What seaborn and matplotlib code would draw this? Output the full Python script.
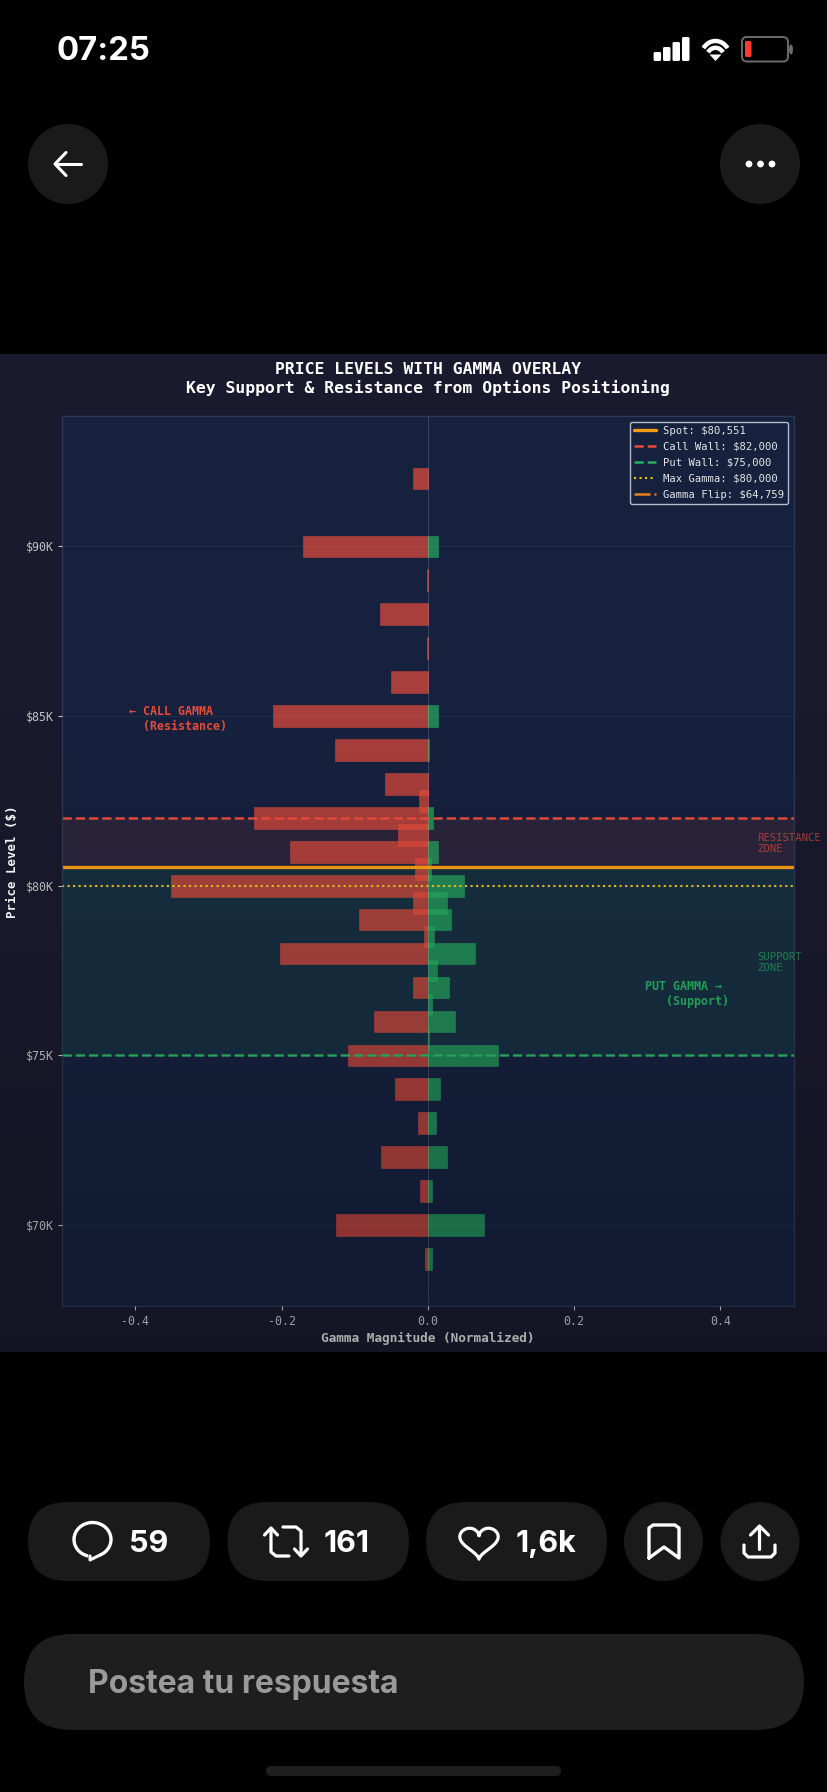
#!/usr/bin/env python3
"""
Price levels with gamma overlay, inside a phone screenshot
"""

import numpy as np
import matplotlib
matplotlib.use("Agg")
import matplotlib.pyplot as plt
from matplotlib.patches import Circle, Ellipse, FancyBboxPatch, Polygon, Arc
import seaborn as sns

# Chart values
price_levels = [92000, 90000, 89000, 88000, 87000, 86000, 85000, 84000, 83000, 82500, 82000,
                81500, 81000, 80500, 80000, 79500, 79000, 78500, 78000, 77500, 77000, 76500,
                76000, 75500, 75000, 74000, 73000, 72000, 71000, 70000, 69000]
call_gamma = [-0.021, -0.171, -0.001, -0.065, -0.001, -0.051, -0.212, -0.127, -0.059, -0.0125, -0.238,
              -0.0405, -0.189, -0.0175, -0.3515, -0.020, -0.094, -0.005, -0.2025, 0, -0.021, 0,
              -0.074, 0, -0.11, -0.045, -0.013, -0.0636, -0.011, -0.126, -0.0036]
put_gamma = [0, 0.014, 0, 0, 0, 0, 0.014, 0.002, 0, 0, 0.007,
             0, 0.014, 0.004, 0.049, 0.026, 0.032, 0.0087, 0.064, 0.013, 0.029, 0.0058,
             0.0376, 0.002, 0.096, 0.0166, 0.0116, 0.026, 0.0058, 0.077, 0.0058]

spot = 80551
call_wall = 82000
put_wall = 75000
max_gamma = 80000
gamma_flip = 64759

y_ticks = [70000, 75000, 80000, 85000, 90000]
y_tick_labels = ["$70K", "$75K", "$80K", "$85K", "$90K"]
x_ticks = [-0.4, -0.2, 0.0, 0.2, 0.4]

RED = "#e74c3c"
GREEN = "#27ae60"
MONO = "DejaVu Sans Mono"
W, H = 828, 1792

sns.set_theme(style="dark")
plt.rcParams["font.family"] = [MONO, "DejaVu Sans"]

fig = plt.figure(figsize=(W / 100, H / 100), dpi=100, facecolor="black")


def px_axes(top, bottom, zorder):
    """Axes covering a horizontal strip of the figure, in pixel coords"""
    a = fig.add_axes([0, 1 - bottom / H, 1, (bottom - top) / H], zorder=zorder)
    a.set_xlim(0, W)
    a.set_ylim(bottom, top)
    a.axis("off")
    return a


# Chart image background
bg = px_axes(354, 1352, 0)
bg.add_patch(FancyBboxPatch((0, 354), W, 998, boxstyle="square,pad=0", fc="#1a1a2e", ec="none"))

# Main chart
ax = fig.add_axes([62.3 / W, 1 - 1306.3 / H, 731.3 / W, 890 / H], zorder=1, facecolor="#16213e")
ax.axhspan(spot, call_wall, color=RED, alpha=0.1, lw=0)
ax.axhspan(put_wall, spot, color=GREEN, alpha=0.1, lw=0)

sns.barplot(x=call_gamma, y=price_levels, orient="y", native_scale=True, color=RED, saturation=1,
            alpha=0.7, width=1.28, errorbar=None, edgecolor=RED, linewidth=0.4, ax=ax)
sns.barplot(x=put_gamma, y=price_levels, orient="y", native_scale=True, color=GREEN, saturation=1,
            alpha=0.7, width=1.28, errorbar=None, edgecolor=GREEN, linewidth=0.4, ax=ax)

# levels with no gamma on one side should leave no outline behind
for bar in list(ax.patches):
    if bar.get_width() == 0:
        bar.remove()

ax.axvline(0, color="white", alpha=0.15, lw=0.8)
ax.axhline(spot, color="#f39c12", lw=2.4, label=f"Spot: ${spot:,}")
ax.axhline(call_wall, color=RED, lw=1.8, ls="--", label=f"Call Wall: ${call_wall:,}")
ax.axhline(put_wall, color=GREEN, lw=1.8, ls="--", label=f"Put Wall: ${put_wall:,}")
ax.axhline(max_gamma, color="#f1c40f", lw=1.5, ls=":", label=f"Max Gamma: ${max_gamma:,}")
ax.axhline(gamma_flip, color="#e67e22", lw=1.8, ls="-.", label=f"Gamma Flip: ${gamma_flip:,}")

ax.set_xlim(-0.5, 0.5)
ax.set_ylim(67604, 93835)
ax.set_xticks(x_ticks)
ax.set_xticklabels([f"{v:.1f}" for v in x_ticks])
ax.set_yticks(y_ticks)
ax.set_yticklabels(y_tick_labels)
ax.tick_params(axis="both", colors="#c4c4c4", labelsize=8.4, length=3, width=0.8,
               left=True, bottom=True, pad=3)
ax.set_axisbelow(False)
ax.grid(axis="y", color="white", alpha=0.05, lw=0.8)
ax.grid(axis="x", visible=False)
for spine in ax.spines.values():
    spine.set_color("#2c3a58")
    spine.set_linewidth(0.9)

ax.set_xlabel("Gamma Magnitude (Normalized)", color="#d8d8d8", fontsize=9.2, fontweight="bold", labelpad=3)
ax.set_ylabel("Price Level ($)", color="white", fontsize=9, fontweight="bold")
ax.yaxis.set_label_coords(-0.059, (1306.3 - 862) / 890)
ax.set_title("PRICE LEVELS WITH GAMMA OVERLAY\nKey Support & Resistance from Options Positioning",
             color="white", fontsize=11.8, fontweight="bold", pad=17, linespacing=1.2)

ax.text(-0.409, 84912, "← CALL GAMMA\n  (Resistance)", color=RED, fontsize=8.4, fontweight="bold",
        va="center", ha="left", linespacing=1.25)
ax.text(0.297, 76814, "PUT GAMMA →\n   (Support)", color=GREEN, fontsize=8.4, fontweight="bold",
        va="center", ha="left", linespacing=1.25)
ax.text(0.45, 81250, "RESISTANCE\nZONE", color=RED, alpha=0.7, fontsize=7.6, va="center", ha="left",
        clip_on=False)
ax.text(0.45, 77735, "SUPPORT\nZONE", color=GREEN, alpha=0.7, fontsize=7.6, va="center", ha="left",
        clip_on=False)

leg = ax.legend(loc="upper right", fontsize=7.6, facecolor="#16213e", edgecolor="#c8ccd4",
                framealpha=0.9, handlelength=2.1, labelspacing=0.57, borderaxespad=0.5,
                borderpad=0.4, handletextpad=0.65)
for text in leg.get_texts():
    text.set_color("#e6e6e6")

# The screenshot darkens towards the bottom of the chart
shade = px_axes(354, 1352, 2)
alpha_ramp = np.clip((np.linspace(354, 1352, 256) - 700) / 652, 0, 1)[:, None] * 0.2
rgba = np.zeros((256, 1, 4))
rgba[..., 3] = alpha_ramp
shade.imshow(rgba, extent=(0, W, 1352, 354), aspect="auto", interpolation="bilinear")
shade.set_xlim(0, W)
shade.set_ylim(1352, 354)
shade.patch.set_alpha(0)

# Phone interface
ui = px_axes(0, H, 3)
ui.patch.set_alpha(0)
PILL = "#1a1a1a"
BOLD = ["Inter", "DejaVu Sans"]


def pill(x0, x1, y0, y1, color=PILL):
    r = (y1 - y0) / 2
    ui.add_patch(FancyBboxPatch((x0 + r, y0 + r), x1 - x0 - 2 * r, 0,
                                boxstyle=f"round,pad={r},rounding_size={r}", fc=color, ec="none"))


ui.text(57, 52, "07:25", color="white", fontsize=23.6, fontweight="bold", family=BOLD, va="center", ha="left")

# signal bars
for bx, top in zip([653.6, 663, 672.5, 682], [52, 47, 42, 37]):
    ui.add_patch(FancyBboxPatch((bx + 1.5, top + 1.5), 4.5, 61 - top - 3,
                                boxstyle="round,pad=1.5,rounding_size=1.5", fc="white", ec="none"))
# wifi
for d, lw in [(42, 3.2), (26, 3.2)]:
    ui.add_patch(Arc((715.5, 59), d * 0.72, d * 0.86, theta1=222, theta2=318, color="white", lw=lw))
ui.add_patch(Polygon([[715.5, 61], [709.5, 54.5], [721.5, 54.5]], fc="white", ec="none"))
# battery
ui.add_patch(FancyBboxPatch((745, 40), 40, 18.5, boxstyle="round,pad=3,rounding_size=5",
                            fc="none", ec="#6b6b6b", lw=1.4))
ui.add_patch(FancyBboxPatch((746.5, 42.5), 3.5, 13, boxstyle="round,pad=1.5,rounding_size=1.5",
                            fc="#ff3b30", ec="none"))
ui.add_patch(Ellipse((791, 49.5), 4, 10, fc="#6b6b6b", ec="none"))

# top buttons
ui.add_patch(Circle((68, 164), 40, fc=PILL, ec="none"))
ui.add_patch(Circle((760, 164), 40, fc=PILL, ec="none"))
ui.plot([55, 81], [164, 164], color="white", lw=2.2, solid_capstyle="round")
ui.plot([66, 55, 66], [152.5, 164, 175.5], color="white", lw=2.2, solid_capstyle="round", solid_joinstyle="round")
for dx in [749, 760.5, 772]:
    ui.add_patch(Circle((dx, 164), 3.4, fc="white", ec="none"))

# bottom action row
pill(28, 210, 1502, 1581)
pill(227.5, 409, 1502, 1581)
pill(426, 607, 1502, 1581)
ui.add_patch(Circle((663.5, 1541.5), 39.5, fc=PILL, ec="none"))
ui.add_patch(Circle((760, 1541.5), 39.5, fc=PILL, ec="none"))
for tx, label in [(129.5, "59"), (324, "161"), (516, "1,6k")]:
    ui.text(tx, 1544, label, color="white", fontsize=22, fontweight="bold", family=BOLD, va="center", ha="left")

# reply bubble
ui.add_patch(Arc((92.5, 1539.5), 37, 34, theta1=105, theta2=65, color="white", lw=2.4))
ui.plot([100, 90, 90], [1555, 1560, 1556], color="white", lw=2.2, solid_joinstyle="round")
# repost arrows
ui.plot([271, 271, 276, 289], [1529, 1552, 1556, 1556], color="white", lw=2.3, solid_joinstyle="round")
ui.plot([264.5, 271, 277.5], [1535, 1528, 1535], color="white", lw=2.3, solid_joinstyle="round")
ui.plot([283, 296, 301, 301], [1527, 1527, 1531, 1555], color="white", lw=2.3, solid_joinstyle="round")
ui.plot([294.5, 301, 307.5], [1549, 1556, 1549], color="white", lw=2.3, solid_joinstyle="round")
# heart
ht = np.linspace(0, 2 * np.pi, 120)
hx = 16 * np.sin(ht) ** 3
hy = 13 * np.cos(ht) - 5 * np.cos(2 * ht) - 2 * np.cos(3 * ht) - np.cos(4 * ht)
ui.plot(479 + hx * 1.2, 1541 - hy * 1.07, color="white", lw=2.3)
# bookmark
ui.plot([649, 649, 653, 675, 679, 679, 664, 649], [1558, 1528, 1525, 1525, 1528, 1558, 1547, 1558],
        color="white", lw=2.4, solid_joinstyle="round")
# share
ui.plot([744, 744, 748, 771, 775, 775], [1545, 1553, 1557, 1557, 1553, 1545], color="white", lw=2.3,
        solid_joinstyle="round")
ui.plot([759.5, 759.5], [1527, 1549], color="white", lw=2.3)
ui.plot([750.5, 759.5, 768.5], [1535, 1526, 1535], color="white", lw=2.3, solid_joinstyle="round")

# reply box and home bar
pill(24, 804, 1634, 1730, color="#1e1e1e")
ui.text(88.5, 1684, "Postea tu respuesta", color="#9a9a9a", fontsize=23, fontweight="bold", family=BOLD,
        va="center", ha="left")
pill(266, 561, 1766, 1776, color="#1e1e1e")

fig.savefig("out.png", dpi=100, facecolor="black")
